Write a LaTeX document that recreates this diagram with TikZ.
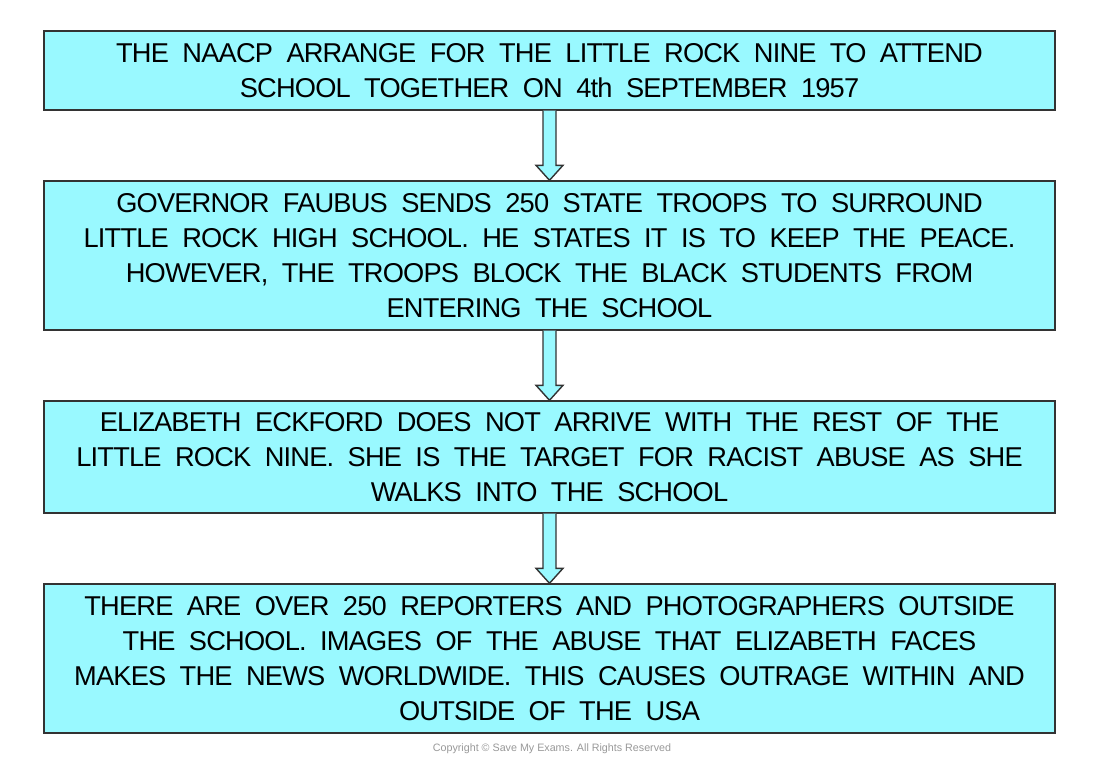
\documentclass[tikz,border=0pt]{standalone}
\usepackage{fontspec}
\setmainfont[LetterSpace=-3,WordSpace=2]{Liberation Sans}
\usetikzlibrary{calc}

\definecolor{boxfill}{RGB}{153,249,255}
\definecolor{boxline}{RGB}{51,51,51}

\tikzset{
  eventbox/.style={draw=boxline,fill=boxfill,line width=0.8pt,inner sep=0pt,
    minimum width=20.22cm,align=center,font=\fontsize{15.5}{19.9}\selectfont},
  flowarr/.style={draw=boxline,fill=boxfill,line width=0.8pt,line join=miter}
}

\newcommand{\flowarrow}[2]{%
  \draw[flowarr] ($(#1.south)+(-6.5,0)$) -- ($(#2.north)+(-6.5,-15)$)
    -- ($(#2.north)+(-13.5,-15)$) -- (#2.north) -- ($(#2.north)+(13.5,-15)$)
    -- ($(#2.north)+(6.5,-15)$) -- ($(#1.south)+(6.5,0)$);}

\begin{document}
\begin{tikzpicture}[x=0.02cm,y=-0.02cm]

\useasboundingbox[fill=white] (0,0) rectangle (1100,766);

\def\cx{549.5}

\node[eventbox,minimum height=1.58cm] (naacp) at (\cx,70.5)
  {THE NAACP ARRANGE FOR THE LITTLE ROCK NINE TO ATTEND\\
   SCHOOL TOGETHER ON 4th SEPTEMBER 1957};

\node[eventbox,minimum height=2.98cm] (faubus) at (\cx,255.5)
  {GOVERNOR FAUBUS SENDS 250 STATE TROOPS TO SURROUND\\
   LITTLE ROCK HIGH SCHOOL. HE STATES IT IS TO KEEP THE PEACE.\\
   HOWEVER, THE TROOPS BLOCK THE BLACK STUDENTS FROM\\
   ENTERING THE SCHOOL};

\node[eventbox,minimum height=2.24cm] (eckford) at (\cx,457)
  {ELIZABETH ECKFORD DOES NOT ARRIVE WITH THE REST OF THE\\
   LITTLE ROCK NINE. SHE IS THE TARGET FOR RACIST ABUSE AS SHE\\
   WALKS INTO THE SCHOOL};

\node[eventbox,minimum height=2.98cm] (press) at (\cx,658.5)
  {THERE ARE OVER 250 REPORTERS AND PHOTOGRAPHERS OUTSIDE\\
   THE SCHOOL. IMAGES OF THE ABUSE THAT ELIZABETH FACES\\
   MAKES THE NEWS WORLDWIDE. THIS CAUSES OUTRAGE WITHIN AND\\
   OUTSIDE OF THE USA};

\flowarrow{naacp}{faubus}
\flowarrow{faubus}{eckford}
\flowarrow{eckford}{press}

\node[text=black!40,font=\fontspec{Liberation Sans}\fontsize{6.1}{7}\selectfont] (copy) at (552,749)
  {Copyright \textcopyright{} Save My Exams. All Rights Reserved};

\end{tikzpicture}
\end{document}
